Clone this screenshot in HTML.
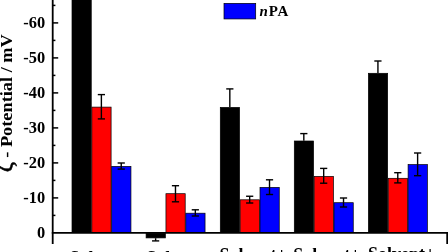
<!DOCTYPE html>
<html><head><meta charset="utf-8"><title>Zeta potential chart</title>
<style>html,body{margin:0;padding:0;background:#fff;overflow:hidden}svg{display:block}text{font-family:"Liberation Serif",serif;font-weight:bold;fill:#000}</style></head><body>
<svg width="448" height="252" viewBox="0 0 448 252">
<rect x="0" y="0" width="448" height="252" fill="#fff"/>
<rect x="72.00" y="-4.70" width="19.25" height="237.30" fill="#000000" stroke="#000" stroke-width="0.7"/>
<rect x="91.85" y="107.10" width="19.25" height="125.50" fill="#ff0000" stroke="#000" stroke-width="0.7"/>
<rect x="111.70" y="166.40" width="19.25" height="66.20" fill="#0000ff" stroke="#000" stroke-width="0.7"/>
<rect x="146.10" y="233.20" width="19.25" height="4.70" fill="#000000" stroke="#000" stroke-width="0.7"/>
<rect x="165.95" y="193.70" width="19.25" height="38.90" fill="#ff0000" stroke="#000" stroke-width="0.7"/>
<rect x="185.80" y="213.20" width="19.25" height="19.40" fill="#0000ff" stroke="#000" stroke-width="0.7"/>
<rect x="220.30" y="107.40" width="19.25" height="125.20" fill="#000000" stroke="#000" stroke-width="0.7"/>
<rect x="240.15" y="199.80" width="19.25" height="32.80" fill="#ff0000" stroke="#000" stroke-width="0.7"/>
<rect x="260.00" y="187.40" width="19.25" height="45.20" fill="#0000ff" stroke="#000" stroke-width="0.7"/>
<rect x="294.30" y="141.00" width="19.25" height="91.60" fill="#000000" stroke="#000" stroke-width="0.7"/>
<rect x="314.15" y="176.40" width="19.25" height="56.20" fill="#ff0000" stroke="#000" stroke-width="0.7"/>
<rect x="334.00" y="202.70" width="19.25" height="29.90" fill="#0000ff" stroke="#000" stroke-width="0.7"/>
<rect x="368.40" y="73.30" width="19.25" height="159.30" fill="#000000" stroke="#000" stroke-width="0.7"/>
<rect x="388.25" y="178.30" width="19.25" height="54.30" fill="#ff0000" stroke="#000" stroke-width="0.7"/>
<rect x="408.10" y="164.60" width="19.25" height="68.00" fill="#0000ff" stroke="#000" stroke-width="0.7"/>
<path d="M101.38 94.60V118.90" stroke="#000" stroke-width="1.4" fill="none"/>
<path d="M97.78 94.60H104.98" stroke="#000" stroke-width="1.4" fill="none"/>
<path d="M97.78 118.90H104.98" stroke="#000" stroke-width="1.4" fill="none"/>
<path d="M121.23 163.00V169.10" stroke="#000" stroke-width="1.4" fill="none"/>
<path d="M117.63 163.00H124.83" stroke="#000" stroke-width="1.4" fill="none"/>
<path d="M117.63 169.10H124.83" stroke="#000" stroke-width="1.4" fill="none"/>
<path d="M155.63 238.20V240.90" stroke="#000" stroke-width="1.4" fill="none"/>
<path d="M152.03 240.90H159.23" stroke="#000" stroke-width="1.4" fill="none"/>
<path d="M175.48 185.70V201.80" stroke="#000" stroke-width="1.4" fill="none"/>
<path d="M171.88 185.70H179.08" stroke="#000" stroke-width="1.4" fill="none"/>
<path d="M171.88 201.80H179.08" stroke="#000" stroke-width="1.4" fill="none"/>
<path d="M195.33 209.80V216.00" stroke="#000" stroke-width="1.4" fill="none"/>
<path d="M191.73 209.80H198.93" stroke="#000" stroke-width="1.4" fill="none"/>
<path d="M191.73 216.00H198.93" stroke="#000" stroke-width="1.4" fill="none"/>
<path d="M229.83 88.90V107.10" stroke="#000" stroke-width="1.4" fill="none"/>
<path d="M226.23 88.90H233.43" stroke="#000" stroke-width="1.4" fill="none"/>
<path d="M249.68 196.25V203.00" stroke="#000" stroke-width="1.4" fill="none"/>
<path d="M246.08 196.25H253.28" stroke="#000" stroke-width="1.4" fill="none"/>
<path d="M246.08 203.00H253.28" stroke="#000" stroke-width="1.4" fill="none"/>
<path d="M269.52 179.80V194.50" stroke="#000" stroke-width="1.4" fill="none"/>
<path d="M265.92 179.80H273.12" stroke="#000" stroke-width="1.4" fill="none"/>
<path d="M265.92 194.50H273.12" stroke="#000" stroke-width="1.4" fill="none"/>
<path d="M303.82 133.60V140.70" stroke="#000" stroke-width="1.4" fill="none"/>
<path d="M300.22 133.60H307.43" stroke="#000" stroke-width="1.4" fill="none"/>
<path d="M323.68 168.40V183.20" stroke="#000" stroke-width="1.4" fill="none"/>
<path d="M320.07 168.40H327.28" stroke="#000" stroke-width="1.4" fill="none"/>
<path d="M320.07 183.20H327.28" stroke="#000" stroke-width="1.4" fill="none"/>
<path d="M343.52 198.00V207.00" stroke="#000" stroke-width="1.4" fill="none"/>
<path d="M339.92 198.00H347.12" stroke="#000" stroke-width="1.4" fill="none"/>
<path d="M339.92 207.00H347.12" stroke="#000" stroke-width="1.4" fill="none"/>
<path d="M377.93 61.00V73.00" stroke="#000" stroke-width="1.4" fill="none"/>
<path d="M374.32 61.00H381.53" stroke="#000" stroke-width="1.4" fill="none"/>
<path d="M397.78 172.70V182.90" stroke="#000" stroke-width="1.4" fill="none"/>
<path d="M394.18 172.70H401.38" stroke="#000" stroke-width="1.4" fill="none"/>
<path d="M394.18 182.90H401.38" stroke="#000" stroke-width="1.4" fill="none"/>
<path d="M417.62 153.00V175.70" stroke="#000" stroke-width="1.4" fill="none"/>
<path d="M414.02 153.00H421.23" stroke="#000" stroke-width="1.4" fill="none"/>
<path d="M414.02 175.70H421.23" stroke="#000" stroke-width="1.4" fill="none"/>
<path d="M52.7 0V244" stroke="#000" stroke-width="1.8" fill="none"/>
<path d="M51.8 232.9H448" stroke="#000" stroke-width="1.8" fill="none"/>
<path d="M447.2 232.0V244" stroke="#000" stroke-width="1.8" fill="none"/>
<path d="M52.7 22.90H58.2" stroke="#000" stroke-width="1.5" fill="none"/>
<path d="M52.7 5.40H55.4" stroke="#000" stroke-width="1.5" fill="none"/>
<text x="45.1" y="28.05" font-size="16.4" text-anchor="end">-60</text>
<path d="M52.7 57.90H58.2" stroke="#000" stroke-width="1.5" fill="none"/>
<path d="M52.7 40.40H55.4" stroke="#000" stroke-width="1.5" fill="none"/>
<text x="45.1" y="63.05" font-size="16.4" text-anchor="end">-50</text>
<path d="M52.7 92.90H58.2" stroke="#000" stroke-width="1.5" fill="none"/>
<path d="M52.7 75.40H55.4" stroke="#000" stroke-width="1.5" fill="none"/>
<text x="45.1" y="98.05" font-size="16.4" text-anchor="end">-40</text>
<path d="M52.7 127.90H58.2" stroke="#000" stroke-width="1.5" fill="none"/>
<path d="M52.7 110.40H55.4" stroke="#000" stroke-width="1.5" fill="none"/>
<text x="45.1" y="133.05" font-size="16.4" text-anchor="end">-30</text>
<path d="M52.7 162.90H58.2" stroke="#000" stroke-width="1.5" fill="none"/>
<path d="M52.7 145.40H55.4" stroke="#000" stroke-width="1.5" fill="none"/>
<text x="45.1" y="168.05" font-size="16.4" text-anchor="end">-20</text>
<path d="M52.7 197.90H58.2" stroke="#000" stroke-width="1.5" fill="none"/>
<path d="M52.7 180.40H55.4" stroke="#000" stroke-width="1.5" fill="none"/>
<text x="45.1" y="203.05" font-size="16.4" text-anchor="end">-10</text>
<path d="M52.7 215.40H55.4" stroke="#000" stroke-width="1.5" fill="none"/>
<text x="45.1" y="238.05" font-size="16.4" text-anchor="end">0</text>
<text transform="translate(12 172.3) rotate(-90)" font-size="25" style="font-weight:normal" stroke="#000" stroke-width="0.5">ζ</text>
<text transform="translate(12 157.8) rotate(-90) scale(1.047 1)" font-size="17.5">- Potential / mV</text>
<rect x="224.0" y="3.35" width="31.7" height="15.6" fill="#0000ff" stroke="#000" stroke-width="0.7"/>
<text x="259.6" y="16.3" font-size="15" letter-spacing="0.8"><tspan font-style="italic">n</tspan>PA</text>
<text x="69.5" y="263.9" font-size="18">Solvent</text>
<text x="146.2" y="263.9" font-size="18">Solvent</text>
<text x="219.4" y="261.2" font-size="18">Solvent+</text>
<text x="293.3" y="261.2" font-size="18">Solvent+</text>
<text x="367.9" y="260.1" font-size="18">Solvent+</text>
</svg></body></html>
